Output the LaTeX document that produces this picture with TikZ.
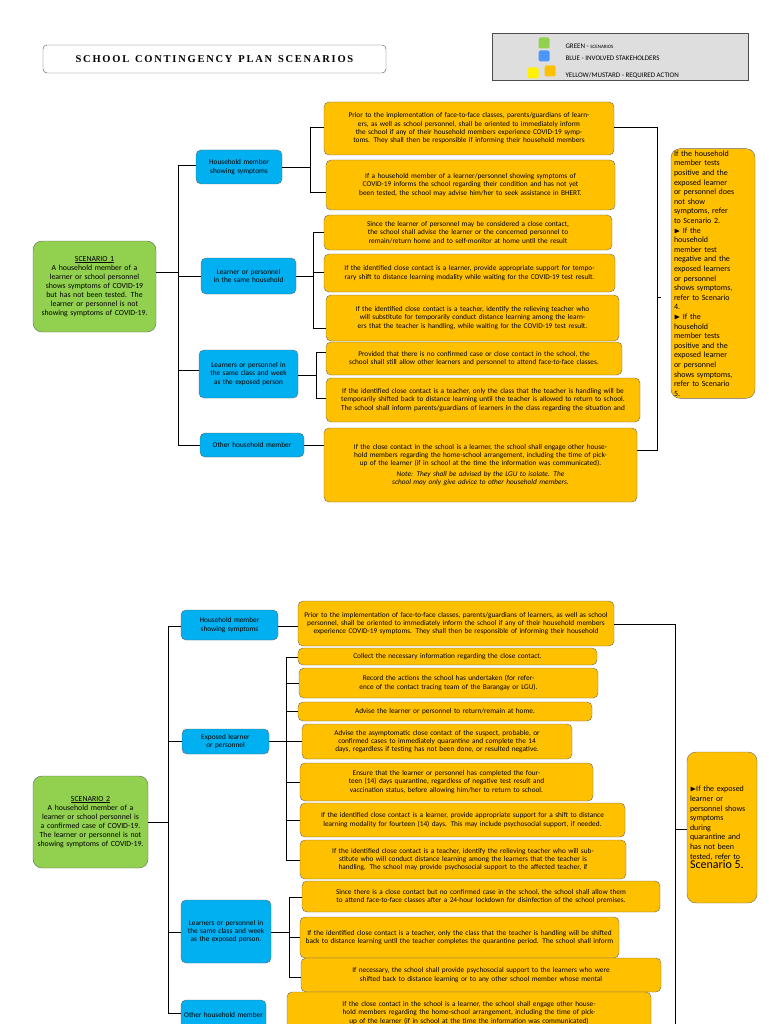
\documentclass[tikz,border=0pt]{standalone}
\usepackage{fontspec}
\setmainfont{Carlito}
\newfontfamily\titlefont{Liberation Serif}
\usepackage{amssymb}
\usetikzlibrary{positioning}
\definecolor{mustard}{HTML}{FFC000}
\definecolor{skyblue}{HTML}{00B0F0}
\definecolor{leafgreen}{HTML}{92D050}
\tikzset{
    base box/.style={draw=black!60, rounded corners=5pt, inner sep=2pt, align=center, font=\fontsize{7.3}{8.3}\selectfont},
    act/.style={base box, fill=mustard},
    who/.style={base box, fill=skyblue},
    side/.style={base box, fill=mustard, align=left, rounded corners=9pt, font=\fontsize{8}{9.6}\selectfont},
    scen/.style={base box, fill=leafgreen, rounded corners=9pt, font=\fontsize{7.8}{9}\selectfont},
    branch/.style={line width=0.8pt}
}
\newcommand{\bx}[7]{% style, name, x1, y1, x2, y2, text
  \node[#1, minimum width={#5-#3}, minimum height={#6-#4}, text width={#5-#3-6}] (#2) at ({(#3+#5)/2},{(#4+#6)/2}) {#7};}
\newcommand{\narrow}[2]{\begin{minipage}{#1pt}\raggedright\hyphenpenalty=10000 #2\end{minipage}}

\begin{document}
\begin{tikzpicture}[x=1pt, y=-1pt]
    \useasboundingbox (0,0) rectangle (768,1024);

    % --- title and legend ---
    \node[draw=black!70, rounded corners=4pt, minimum width=343, minimum height=28, font=\titlefont\bfseries\fontsize{10.5}{12}\selectfont] (title) at (214.5,59) {S\,C\,H\,O\,O\,L\;\;C\,O\,N\,T\,I\,N\,G\,E\,N\,C\,Y\;\;P\,L\,A\,N\;\;S\,C\,E\,N\,A\,R\,I\,O\,S};
    \node[draw=black!70, fill=black!13, minimum width=256, minimum height=47] (legend) at (620,56.5) {};
    \node[fill=leafgreen, rounded corners=1.5pt, minimum size=11pt, inner sep=0] (lg) at (544,43) {};
    \node[fill=skyblue!60!blue!70, rounded corners=1.5pt, minimum size=11pt, inner sep=0] (lb) at (544,56) {};
    \node[fill=yellow, rounded corners=1.5pt, minimum size=11pt, inner sep=0] (ly) at (533,73) {};
    \node[fill=mustard, rounded corners=1.5pt, minimum size=11pt, inner sep=0] (lo) at (550,71) {};
    \node[anchor=west, font=\fontsize{7}{8}\selectfont] at (562,46) {GREEN - {\fontsize{5}{6}\selectfont SCENARIOS}};
    \node[anchor=west, font=\fontsize{7}{8}\selectfont] at (562,58) {BLUE - INVOLVED STAKEHOLDERS};
    \node[anchor=west, font=\fontsize{7}{8}\selectfont] at (562,76) {YELLOW/MUSTARD - REQUIRED ACTION};

    % --- scenario 1 ---
    \bx{scen}{s1}{33}{241}{156}{332}{\underline{SCENARIO 1}\\A household member of a learner or school personnel shows symptoms of COVID-19 but has not been tested. The learner or personnel is not showing symptoms of COVID-19.}
    \bx{who}{a1}{196}{150}{282}{184}{Household member showing symptoms}
    \bx{who}{a2}{201}{258}{296}{294}{Learner or personnel in the same household}
    \bx{who}{a3}{199}{350}{298}{398}{Learners or personnel in the same class and week as the exposed person}
    \bx{who}{a4}{200}{433}{304}{457}{Other household member}
    \bx{act}{o1}{324}{102}{614}{155}{Prior to the implementation of face-to-face classes, parents/guardians of learners, as well as school personnel, shall be oriented to immediately inform the school if any of their household members experience COVID-19 symptoms. They shall then be responsible if informing their household members}
    \bx{act}{o2}{326}{160}{615}{210}{If a household member of a learner/personnel showing symptoms of COVID-19 informs the school regarding their condition and has not yet been tested, the school may advise him/her to seek assistance in BHERT.}
    \bx{act}{o3}{324}{215}{612}{250}{Since the learner of personnel may be considered a close contact, the school shall advise the learner or the concerned personnel to remain/return home and to self-monitor at home until the result}
    \bx{act}{o4}{324}{254}{615}{292}{If the identified close contact is a learner, provide appropriate support for temporary shift to distance learning modality while waiting for the COVID-19 test result.}
    \bx{act}{o5}{326}{295}{619}{341}{If the identified close contact is a teacher, identify the relieving teacher who will substitute for temporarily conduct distance learning among the learners that the teacher is handling, while waiting for the COVID-19 test result.}
    \bx{act}{o6}{326}{342}{622}{375}{Provided that there is no confirmed case or close contact in the school, the school shall still allow other learners and personnel to attend face-to-face classes.}
    \bx{act}{o7}{326}{378}{640}{422}{If the identified close contact is a teacher, only the class that the teacher is handling will be temporarily shifted back to distance learning until the teacher is allowed to return to school. The school shall inform parents/guardians of learners in the class regarding the situation and}
    \bx{act}{o8}{324}{428}{637}{502}{If the close contact in the school is a learner, the school shall engage other household members regarding the home-school arrangement, including the time of pick-up of the learner (if in school at the time the information was communicated).\\[2pt]\itshape Note: They shall be advised by the LGU to isolate. The school may only give advice to other household members.}
    \bx{side}{r1}{671}{150}{755}{397}{\narrow{62}{If the household member tests positive and the exposed learner or personnel does not show symptoms, refer to Scenario 2.\\$\blacktriangleright$ If the household member test negative and the exposed learners or personnel shows symptoms, refer to Scenario 4.\\$\blacktriangleright$ If the household member tests positive and the exposed learner or personnel shows symptoms, refer to Scenario 5.}}

    % --- scenario 1 connectors ---
    \coordinate (t1) at (178,165);
    \coordinate (t4) at (178,445);
    \draw[branch] (t1) -- (t4);
    \draw[branch] (s1.east |- 0,272) -- (178,272);
    \draw (t1) -- (a1.west |- t1);
    \draw (178,276) -- (a2.west |- 0,276);
    \draw (178,370) -- (a3.west |- 0,370);
    \draw (t4) -- (a4.west |- t4);
    \draw (a1.east |- 0,167) -- (310,167);
    \draw (o1.west |- 0,127) -| (310,192) -- (o2.west |- 0,192);
    \draw (a2.east |- 0,276) -- (313,276);
    \draw (o3.west |- 0,232) -| (313,328) -- (o5.west |- 0,328);
    \draw (313,272) -- (o4.west |- 0,272);
    \draw (a3.east |- 0,375) -- (316,375);
    \draw (o6.west |- 0,352) -| (316,398) -- (o7.west |- 0,398);
    \draw (a4.east |- 0,445) -- (o8.west |- 0,445);
    \draw (o1.east |- 0,127) -- (657,127) -- (657,450) -- (o8.east |- 0,450);
    \draw (657,297) -- (661,297);

    % --- scenario 2 ---
    \bx{scen}{s2}{33}{776}{148}{868}{\underline{SCENARIO 2}\\A household member of a learner or school personnel is a confirmed case of COVID-19. The learner or personnel is not showing symptoms of COVID-19.}
    \bx{who}{c1}{181}{610}{278}{640}{Household member showing symptoms}
    \bx{who}{c2}{182}{729}{269}{754}{Exposed learner or personnel}
    \bx{who}{c3}{181}{900}{271}{963}{Learners or personnel in the same class and week as the exposed person.}
    \bx{who}{c4}{181}{1000}{266}{1030}{Other household member}
    \bx{act}{p1}{298}{601}{614}{646}{Prior to the implementation of face-to-face classes, parents/guardians of learners, as well as school personnel, shall be oriented to immediately inform the school if any of their household members experience COVID-19 symptoms. They shall then be responsible of informing their household}
    \bx{act}{p2}{298}{648}{597}{665}{Collect the necessary information regarding the close contact.}
    \bx{act}{p3}{299}{668}{598}{698}{Record the actions the school has undertaken (for reference of the contact tracing team of the Barangay or LGU).}
    \bx{act}{p4}{298}{702}{592}{721}{Advise the learner or personnel to return/remain at home.}
    \bx{act}{p5}{302}{724}{572}{759}{Advise the asymptomatic close contact of the suspect, probable, or confirmed cases to immediately quarantine and complete the 14 days, regardless if testing has not been done, or resulted negative.}
    \bx{act}{p6}{300}{763}{593}{801}{Ensure that the learner or personnel has completed the fourteen (14) days quarantine, regardless of negative test result and vaccination status, before allowing him/her to return to school.}
    \bx{act}{p7}{300}{803}{625}{837}{If the identified close contact is a learner, provide appropriate support for a shift to distance learning modality for fourteen (14) days. This may include psychosocial support, if needed.}
    \bx{act}{p8}{300}{840}{626}{879}{If the identified close contact is a teacher, identify the relieving teacher who will substitute who will conduct distance learning among the learners that the teacher is handling. The school may provide psychosocial support to the affected teacher, if}
    \bx{act}{p9}{302}{881}{660}{912}{Since there is a close contact but no confirmed case in the school, the school shall allow them to attend face-to-face classes after a 24-hour lockdown for disinfection of the school premises.}
    \bx{act}{p10}{300}{917}{619}{958}{If the identified close contact is a teacher, only the class that the teacher is handling will be shifted back to distance learning until the teacher completes the quarantine period. The school shall inform}
    \bx{act}{p11}{301}{958}{661}{992}{If necessary, the school shall provide psychosocial support to the learners who were shifted back to distance learning or to any other school member whose mental}
    \bx{act}{p12}{287}{992}{651}{1034}{If the close contact in the school is a learner, the school shall engage other household members regarding the home-school arrangement, including the time of pick-up of the learner (if in school at the time the information was communicated)}
    \bx{side}{r2}{687}{752}{757}{903}{\narrow{56}{$\blacktriangleright$If the exposed learner or personnel shows symptoms during quarantine and has not been tested, refer to {\large Scenario 5.}}}

    % --- scenario 2 connectors ---
    \coordinate (u1) at (168,626);
    \coordinate (u4) at (168,1013);
    \draw[branch] (u1) -- (u4);
    \draw (s2.east |- 0,822) -- (168,822);
    \draw (u1) -- (c1.west |- u1);
    \draw (168,741) -- (c2.west |- 0,741);
    \draw (168,932) -- (c3.west |- 0,932);
    \draw[branch] (u4) -- (c4.west |- u4);
    \draw[branch] (c1.east |- 0,626) -- (p1.west |- 0,626);
    \draw (c2.east |- 0,741) -- (p5.west |- 0,741);
    \draw (p2.west |- 0,657) -| (286,860) -- (p8.west |- 0,860);
    \draw (286,683) -- (p3.west |- 0,683);
    \draw (286,711) -- (p4.west |- 0,711);
    \draw (286,782) -- (p6.west |- 0,782);
    \draw[branch] (286,820) -- (p7.west |- 0,820);
    \draw (c3.east |- 0,932) -- (289,932);
    \draw[branch] (p9.west |- 0,897) -| (289,977) -- (p11.west |- 0,977);
    \draw (289,937) -- (p10.west |- 0,937);
    \draw (p1.east |- 0,624) -- (675,624) -- (675,1024);
    \draw[branch] (675,829) -- (r2.west |- 0,829);
\end{tikzpicture}
\end{document}
